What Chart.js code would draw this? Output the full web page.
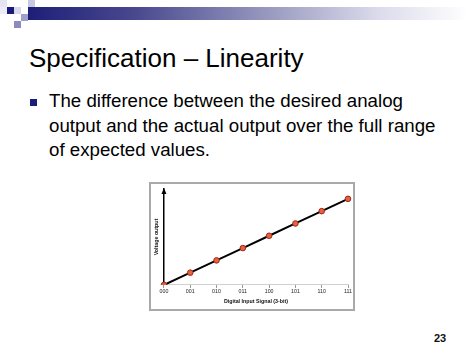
<!DOCTYPE html>
<html>
<head>
<meta charset="utf-8">
<script src="https://cdn.jsdelivr.net/npm/chart.js@4"></script>
<style>
  html, body { margin: 0; padding: 0; background: #fff; }
  body { width: 474px; height: 355px; position: relative; overflow: hidden; font-family: "Liberation Sans", Arial, sans-serif; }
  .sq { position: absolute; width: 7px; height: 7px; }
  #bar { position: absolute; left: 28px; top: 7px; width: 440px; height: 13px;
         background: linear-gradient(to right, #1e1e78 0%, #4a4a90 25%, #9a9ac0 55%, #dcdcec 80%, #ffffff 100%); }
  #title { position: absolute; left: 29px; top: 45px; font-size: 26px; line-height: 1; color: #000; white-space: nowrap; }
  #bullet { position: absolute; left: 30px; top: 99px; width: 7px; height: 7px; background: #1c1c7c; }
  #text { position: absolute; left: 49px; top: 89px; font-size: 18.7px; line-height: 24.5px; color: #000; white-space: nowrap; }
  #box { position: absolute; left: 149px; top: 182px; width: 206px; height: 129px; box-sizing: border-box; border: 2px solid #a9a9a9; }
  #wrap { position: absolute; left: 151px; top: 184px; width: 202px; height: 125px; }
  #pg { position: absolute; left: 434px; top: 333px; font-size: 11px; font-weight: bold; line-height: 1; color: #111; }
</style>
</head>
<body>
<div class="sq" style="left:0;top:0;background:#e4e4f2"></div>
<div class="sq" style="left:0;top:7px;background:#ececf6"></div>
<div class="sq" style="left:7px;top:7px;background:#1a1a7a"></div>
<div class="sq" style="left:14px;top:7px;background:#d8d8ec"></div>
<div class="sq" style="left:21px;top:14px;background:#a0a0cc"></div>
<div class="sq" style="left:14px;top:21px;background:#8c8cbc"></div>
<div class="sq" style="left:28px;top:0;background:#c8c8e2"></div>
<div id="bar"></div>
<div id="title">Specification – Linearity</div>
<div id="bullet"></div>
<div id="text">The difference between the desired analog<br>output and the actual output over the full range<br>of expected values.</div>
<div id="box"></div>
<div id="wrap"><canvas id="myChart"></canvas></div>
<div id="pg">23</div>
<script>
// valori
const codes = ['000', '001', '010', '011', '100', '101', '110', '111'];
const voltage = [0, 1, 2, 3, 4, 5, 6, 7];
const xTitle = 'Digital Input Signal (3-bit)';
const yTitle = 'Voltage output';

// freccia in cima all'asse y
const arrowPlugin = {
    id: 'arrow',
    afterDraw: function (chart) {
        const ctx = chart.ctx;
        const x = chart.scales.y.right;
        const top = chart.chartArea.top;
        ctx.save();
        ctx.fillStyle = '#000';
        ctx.beginPath();
        ctx.moveTo(x, top - 1);
        ctx.lineTo(x - 2.5, top + 5);
        ctx.lineTo(x + 2.5, top + 5);
        ctx.closePath();
        ctx.fill();
        ctx.restore();
    }
};

var data = {
    labels: codes,
    datasets: [{
        data: voltage,
        borderColor: '#000',
        borderWidth: 2,
        pointRadius: 2.8,
        pointBackgroundColor: '#e8603c',
        pointBorderColor: '#9a2a1a',
        pointBorderWidth: 1,
        fill: false,
        tension: 0
    }]
};

var options = {
    responsive: true,
    maintainAspectRatio: false,
    animation: false,
    layout: { padding: { left: 2.2, top: 4, right: 5, bottom: 3.8 } },
    plugins: { legend: { display: false }, tooltip: { enabled: false } },
    scales: {
        x: {
            type: 'category',
            offset: false,
            grid: { display: true, drawOnChartArea: false, drawTicks: true, tickLength: 3, color: '#999', lineWidth: 1 },
            border: { display: true, color: '#d0d0d0', width: 1 },
            ticks: { color: '#222', padding: 0, maxRotation: 0, autoSkip: false, font: { family: 'Liberation Sans', size: 5.3 } },
            title: { display: true, text: xTitle, color: '#111', padding: { top: 4.5, bottom: 0 }, font: { family: 'Liberation Sans', size: 5.3, weight: 'bold' } }
        },
        y: {
            min: 0,
            max: 7.8,
            grid: { display: false, drawTicks: false },
            border: { display: true, color: '#000', width: 1.5 },
            ticks: { display: false },
            title: { display: true, text: yTitle, color: '#111', padding: { top: 0, bottom: 4.4 }, font: { family: 'Liberation Sans', size: 5.3, weight: 'bold' } }
        }
    }
};

var ctx = document.getElementById('myChart').getContext('2d');
var myChart = new Chart(ctx, {
    type: 'line',
    data: data,
    options: options,
    plugins: [arrowPlugin]
});
</script>
</body>
</html>
